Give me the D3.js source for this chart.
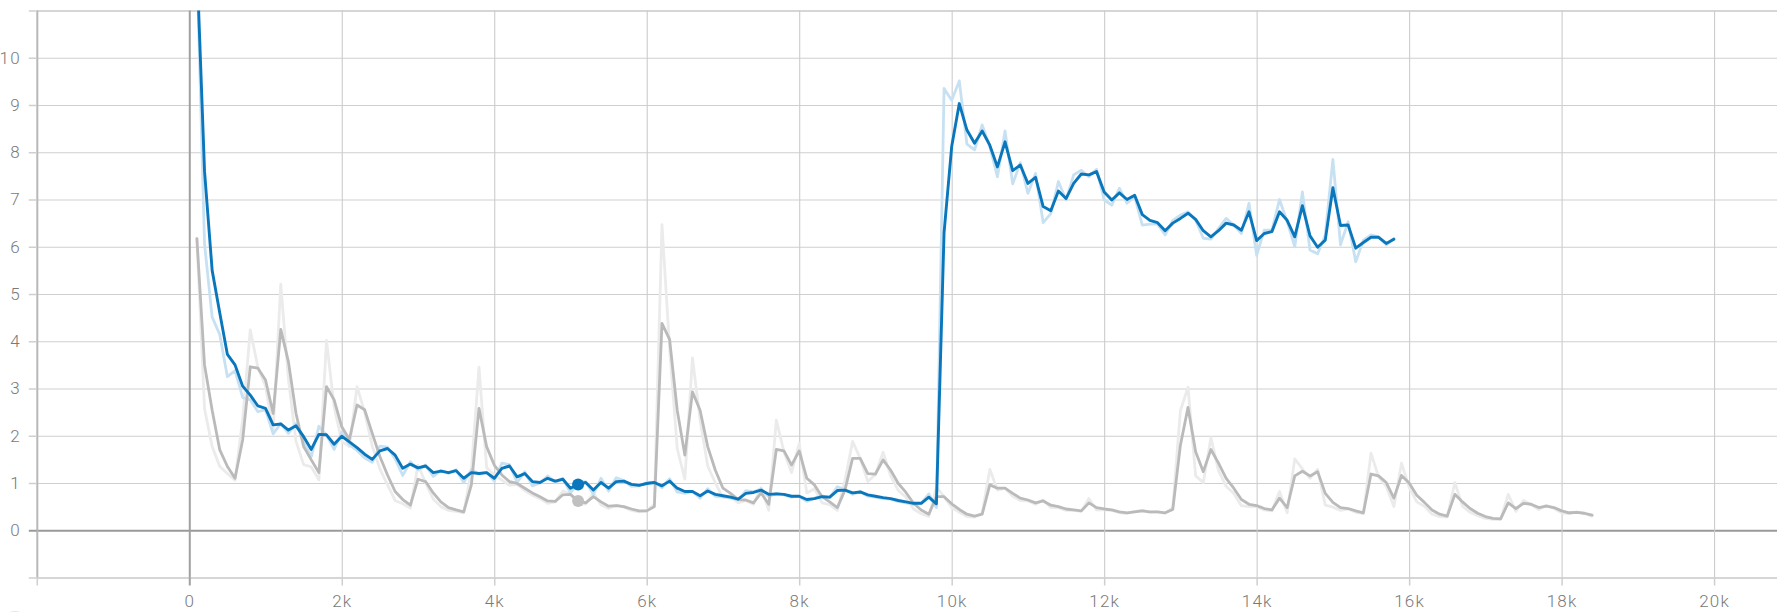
<!DOCTYPE html>
<html>
<head>
<meta charset="utf-8">
<script src="https://cdn.jsdelivr.net/npm/d3@7/dist/d3.min.js"></script>
<style>
  html, body { margin: 0; padding: 0; background: #ffffff; }
  svg { display: block; }
  .lbl text { font-family: Roboto, "Noto Sans", sans-serif; font-weight: 300; font-size: 17px; fill: #7a7a7a; letter-spacing: 1.2px; }
</style>
</head>
<body>
<svg id="chart" width="1777" height="612"></svg>
<script>
// ---------- data ----------
const xTicks = [-2000, 0, 2000, 4000, 6000, 8000, 10000, 12000, 14000, 16000, 18000, 20000];
const yTicks = [-1, 0, 1, 2, 3, 4, 5, 6, 7, 8, 9, 10, 11];

const blueSteps = d3.range(100, 15801, 100);
const graySteps = d3.range(100, 18401, 100);

const blueSmooth = [
  12.0, 7.6, 5.5, 4.6, 3.72, 3.50, 3.05, 2.86, 2.63, 2.58,
  2.23, 2.25, 2.12, 2.21, 1.98, 1.71, 2.03, 2.02, 1.82, 1.99,
  1.87, 1.75, 1.61, 1.50, 1.68, 1.73, 1.59, 1.31, 1.40, 1.32,
  1.36, 1.22, 1.25, 1.22, 1.26, 1.10, 1.22, 1.20, 1.22, 1.10,
  1.31, 1.36, 1.13, 1.20, 1.03, 1.01, 1.10, 1.04, 1.08, 0.89,
  0.97, 1.01, 0.85, 1.01, 0.89, 1.03, 1.04, 0.97, 0.95, 0.99,
  1.01, 0.94, 1.04, 0.89, 0.82, 0.82, 0.73, 0.83, 0.76, 0.73,
  0.70, 0.66, 0.78, 0.80, 0.85, 0.76, 0.77, 0.76, 0.72, 0.72,
  0.65, 0.67, 0.71, 0.70, 0.84, 0.85, 0.79, 0.81, 0.75, 0.72,
  0.69, 0.67, 0.63, 0.60, 0.57, 0.57, 0.70, 0.56, 6.30, 8.12,
  9.03, 8.47, 8.19, 8.45, 8.15, 7.69, 8.22, 7.61, 7.73, 7.34,
  7.47, 6.85, 6.76, 7.18, 7.02, 7.34, 7.54, 7.52, 7.59, 7.16,
  6.99, 7.14, 7.00, 7.09, 6.68, 6.56, 6.51, 6.34, 6.50, 6.60,
  6.71, 6.58, 6.34, 6.21, 6.34, 6.50, 6.46, 6.35, 6.74, 6.13,
  6.28, 6.32, 6.74, 6.56, 6.21, 6.87, 6.23, 5.99, 6.14, 7.25,
  6.45, 6.46, 5.97, 6.09, 6.20, 6.20, 6.07, 6.16
];

const blueRaw = [
  12.0, 6.06, 4.51, 4.14, 3.25, 3.38, 2.81, 2.76, 2.51, 2.55,
  2.04, 2.26, 2.05, 2.26, 1.86, 1.56, 2.20, 2.01, 1.71, 2.08,
  1.81, 1.69, 1.53, 1.44, 1.78, 1.76, 1.51, 1.16, 1.45, 1.28,
  1.38, 1.14, 1.27, 1.20, 1.28, 1.01, 1.28, 1.19, 1.23, 1.04,
  1.42, 1.39, 1.01, 1.24, 0.94, 1.00, 1.15, 1.01, 1.10, 0.79,
  1.01, 1.03, 0.76, 1.10, 0.83, 1.11, 1.05, 0.93, 0.94, 1.01,
  1.02, 0.90, 1.09, 0.81, 0.78, 0.82, 0.68, 0.88, 0.72, 0.71,
  0.68, 0.64, 0.84, 0.81, 0.88, 0.71, 0.78, 0.75, 0.70, 0.72,
  0.61, 0.68, 0.73, 0.69, 0.92, 0.86, 0.76, 0.82, 0.72, 0.70,
  0.67, 0.66, 0.61, 0.58, 0.55, 0.57, 0.77, 0.48, 9.35, 9.10,
  9.51, 8.17, 8.05, 8.58, 8.12, 7.48, 8.45, 7.33, 7.78, 7.13,
  7.55, 6.51, 6.70, 7.38, 6.99, 7.52, 7.62, 7.48, 7.64, 6.99,
  6.88, 7.24, 6.92, 7.06, 6.46, 6.48, 6.48, 6.25, 6.56, 6.67,
  6.74, 6.56, 6.18, 6.16, 6.39, 6.60, 6.46, 6.28, 6.92, 5.82,
  6.35, 6.35, 7.00, 6.53, 6.00, 7.16, 5.93, 5.85, 6.25, 7.85,
  6.04, 6.53, 5.68, 6.14, 6.25, 6.21, 6.04, 6.18
];

const graySmooth = [
  6.17, 3.50, 2.54, 1.70, 1.35, 1.10, 1.91, 3.46, 3.43, 3.18,
  2.47, 4.25, 3.57, 2.47, 1.77, 1.49, 1.22, 3.04, 2.76, 2.19,
  1.92, 2.65, 2.55, 2.05, 1.56, 1.17, 0.82, 0.65, 0.53, 1.08,
  1.03, 0.79, 0.60, 0.48, 0.43, 0.39, 0.96, 2.58, 1.77, 1.38,
  1.17, 1.03, 0.99, 0.89, 0.79, 0.71, 0.62, 0.61, 0.75, 0.76,
  0.62, 0.58, 0.71, 0.60, 0.51, 0.52, 0.50, 0.45, 0.41, 0.41,
  0.50, 4.38, 4.04, 2.54, 1.59, 2.93, 2.54, 1.77, 1.27, 0.89,
  0.78, 0.65, 0.64, 0.58, 0.79, 0.55, 1.71, 1.68, 1.38, 1.68,
  1.10, 0.96, 0.71, 0.60, 0.48, 0.85, 1.52, 1.52, 1.20, 1.19,
  1.49, 1.27, 0.99, 0.80, 0.57, 0.43, 0.34, 0.71, 0.71, 0.56,
  0.44, 0.34, 0.30, 0.34, 0.96, 0.89, 0.89, 0.78, 0.68, 0.64,
  0.58, 0.62, 0.53, 0.50, 0.45, 0.43, 0.41, 0.58, 0.48, 0.45,
  0.43, 0.39, 0.37, 0.39, 0.41, 0.39, 0.39, 0.37, 0.44, 1.80,
  2.60, 1.66, 1.24, 1.71, 1.42, 1.10, 0.89, 0.65, 0.55, 0.52,
  0.46, 0.43, 0.68, 0.48, 1.15, 1.25, 1.15, 1.24, 0.78, 0.59,
  0.48, 0.46, 0.41, 0.37, 1.19, 1.15, 1.01, 0.68, 1.16, 1.00,
  0.74, 0.59, 0.43, 0.34, 0.30, 0.76, 0.60, 0.46, 0.36, 0.29,
  0.25, 0.24, 0.58, 0.46, 0.57, 0.55, 0.48, 0.51, 0.48, 0.41,
  0.37, 0.38, 0.36, 0.32
];

const grayRaw = [
  6.17, 2.57, 1.77, 1.35, 1.20, 1.06, 2.35, 4.24, 3.45, 3.05,
  2.09, 5.21, 3.20, 1.88, 1.39, 1.34, 1.07, 4.02, 2.61, 1.88,
  1.77, 3.04, 2.50, 1.78, 1.30, 0.96, 0.63, 0.56, 0.47, 1.38,
  1.00, 0.66, 0.50, 0.42, 0.40, 0.37, 1.27, 3.45, 1.33, 1.17,
  1.06, 0.95, 0.97, 0.84, 0.74, 0.67, 0.57, 0.60, 0.83, 0.77,
  0.54, 0.56, 0.78, 0.54, 0.46, 0.53, 0.49, 0.42, 0.39, 0.41,
  0.55, 6.47, 3.86, 1.73, 1.08, 3.65, 2.33, 1.36, 1.00, 0.69,
  0.72, 0.58, 0.63, 0.55, 0.90, 0.42, 2.33, 1.66, 1.22, 1.84,
  0.79, 0.88, 0.58, 0.54, 0.42, 1.05, 1.88, 1.52, 1.03, 1.18,
  1.65, 1.15, 0.84, 0.70, 0.45, 0.35, 0.29, 0.91, 0.71, 0.48,
  0.38, 0.29, 0.28, 0.36, 1.29, 0.85, 0.89, 0.72, 0.63, 0.62,
  0.55, 0.64, 0.48, 0.48, 0.42, 0.42, 0.40, 0.67, 0.43, 0.43,
  0.42, 0.37, 0.36, 0.40, 0.42, 0.38, 0.39, 0.36, 0.48, 2.53,
  3.03, 1.15, 1.01, 1.96, 1.26, 0.93, 0.78, 0.52, 0.50, 0.50,
  0.43, 0.41, 0.82, 0.37, 1.51, 1.30, 1.10, 1.29, 0.53, 0.49,
  0.42, 0.45, 0.38, 0.35, 1.63, 1.13, 0.93, 0.50, 1.42, 0.91,
  0.60, 0.51, 0.34, 0.29, 0.28, 1.01, 0.51, 0.38, 0.31, 0.25,
  0.23, 0.23, 0.76, 0.40, 0.63, 0.54, 0.44, 0.53, 0.46, 0.37,
  0.35, 0.39, 0.35, 0.30
];

// hovered point markers
const markerStep = 5100;
const markerBlue = 0.97;
const markerGray = 0.62;

// ---------- layout ----------
const W = 1777, H = 612;
const plotLeft = 36.8, plotTop = 10.5, plotBottom = 577.5;

const x = d3.scaleLinear().domain([-2000, 21000]).range([plotLeft, plotLeft + 23000 * 0.07624]);
const y = d3.scaleLinear().domain([-1, 11]).range([plotBottom, plotTop]);

const svg = d3.select("#chart");

// horizontal grid lines (incl. top/bottom borders)
const gy = svg.append("g").attr("transform", `translate(${plotLeft},0)`)
  .call(d3.axisLeft(y).tickValues(yTicks).tickSize(-(W - plotLeft)).tickFormat(""));
gy.select(".domain").remove();
gy.selectAll(".tick line")
  .attr("stroke", d => d === 0 ? "#9a9a9a" : (d === -1 || d === 11 ? "#d6d6d6" : "#cfcfcf"))
  .attr("stroke-width", d => (d === 0 || d === -1 || d === 11) ? 2 : 1.1);

// vertical grid lines
const gx = svg.append("g").attr("transform", `translate(0,${plotBottom})`)
  .call(d3.axisBottom(x).tickValues(xTicks).tickSize(-(plotBottom - plotTop)).tickFormat(""));
gx.select(".domain").remove();
gx.selectAll(".tick line")
  .attr("stroke", d => d === 0 ? "#a0a0a0" : (d === -2000 ? "#b8b8b8" : "#cccccc"))
  .attr("stroke-width", d => (d === 0 || d === -2000) ? 2 : 1.1);

// y axis ticks + labels
const ay = svg.append("g").attr("class", "lbl").attr("transform", `translate(${plotLeft},0)`)
  .call(d3.axisLeft(y).tickValues(yTicks).tickSize(8).tickPadding(8)
    .tickFormat(d => (d < 0 || d > 10) ? "" : String(d)));
ay.select(".domain").remove();
ay.selectAll(".tick line").attr("stroke", d => d === 0 ? "#9a9a9a" : "#cfcfcf").attr("stroke-width", d => d === 0 ? 2 : 1.5);

// x axis ticks + labels
const ax = svg.append("g").attr("class", "lbl").attr("transform", `translate(0,${plotBottom})`)
  .call(d3.axisBottom(x).tickValues(xTicks).tickSize(8).tickPadding(9)
    .tickFormat(d => d < 0 ? "" : (d === 0 ? "0" : (d / 1000) + "k")));
ax.select(".domain").remove();
ax.selectAll(".tick line").attr("stroke", d => d === 0 ? "#a0a0a0" : "#cfcfcf").attr("stroke-width", d => d === 0 ? 2 : 1.5);

// clip
svg.append("clipPath").attr("id", "plotclip")
  .append("rect").attr("x", plotLeft).attr("y", plotTop).attr("width", W - plotLeft).attr("height", plotBottom - plotTop);

const plot = svg.append("g").attr("clip-path", "url(#plotclip)");

function lineFor(steps) {
  return d3.line().x((d, i) => x(steps[i])).y(d => y(d));
}

const series = [
  { data: grayRaw, steps: graySteps, color: "#ebebeb", w: 2.8 },
  { data: blueRaw, steps: blueSteps, color: "#c7e1f2", w: 2.8 },
  { data: graySmooth, steps: graySteps, color: "#bababa", w: 2.8 },
  { data: blueSmooth, steps: blueSteps, color: "#0a77bc", w: 2.9 }
];

series.forEach(s => {
  plot.append("path")
    .datum(s.data)
    .attr("fill", "none")
    .attr("stroke", s.color)
    .attr("stroke-width", s.w)
    .attr("stroke-linejoin", "round")
    .attr("stroke-linecap", "round")
    .attr("d", lineFor(s.steps));
});

// marker dots
plot.append("circle").attr("cx", x(markerStep)).attr("cy", y(markerGray)).attr("r", 6).attr("fill", "#c0c0c0");
plot.append("circle").attr("cx", x(markerStep)).attr("cy", y(markerBlue)).attr("r", 6).attr("fill", "#0a77bc");

// cut-off control at bottom-left corner
svg.append("circle").attr("cx", 15).attr("cy", 625).attr("r", 14).attr("fill", "#e6e6e6");
</script>
</body>
</html>
